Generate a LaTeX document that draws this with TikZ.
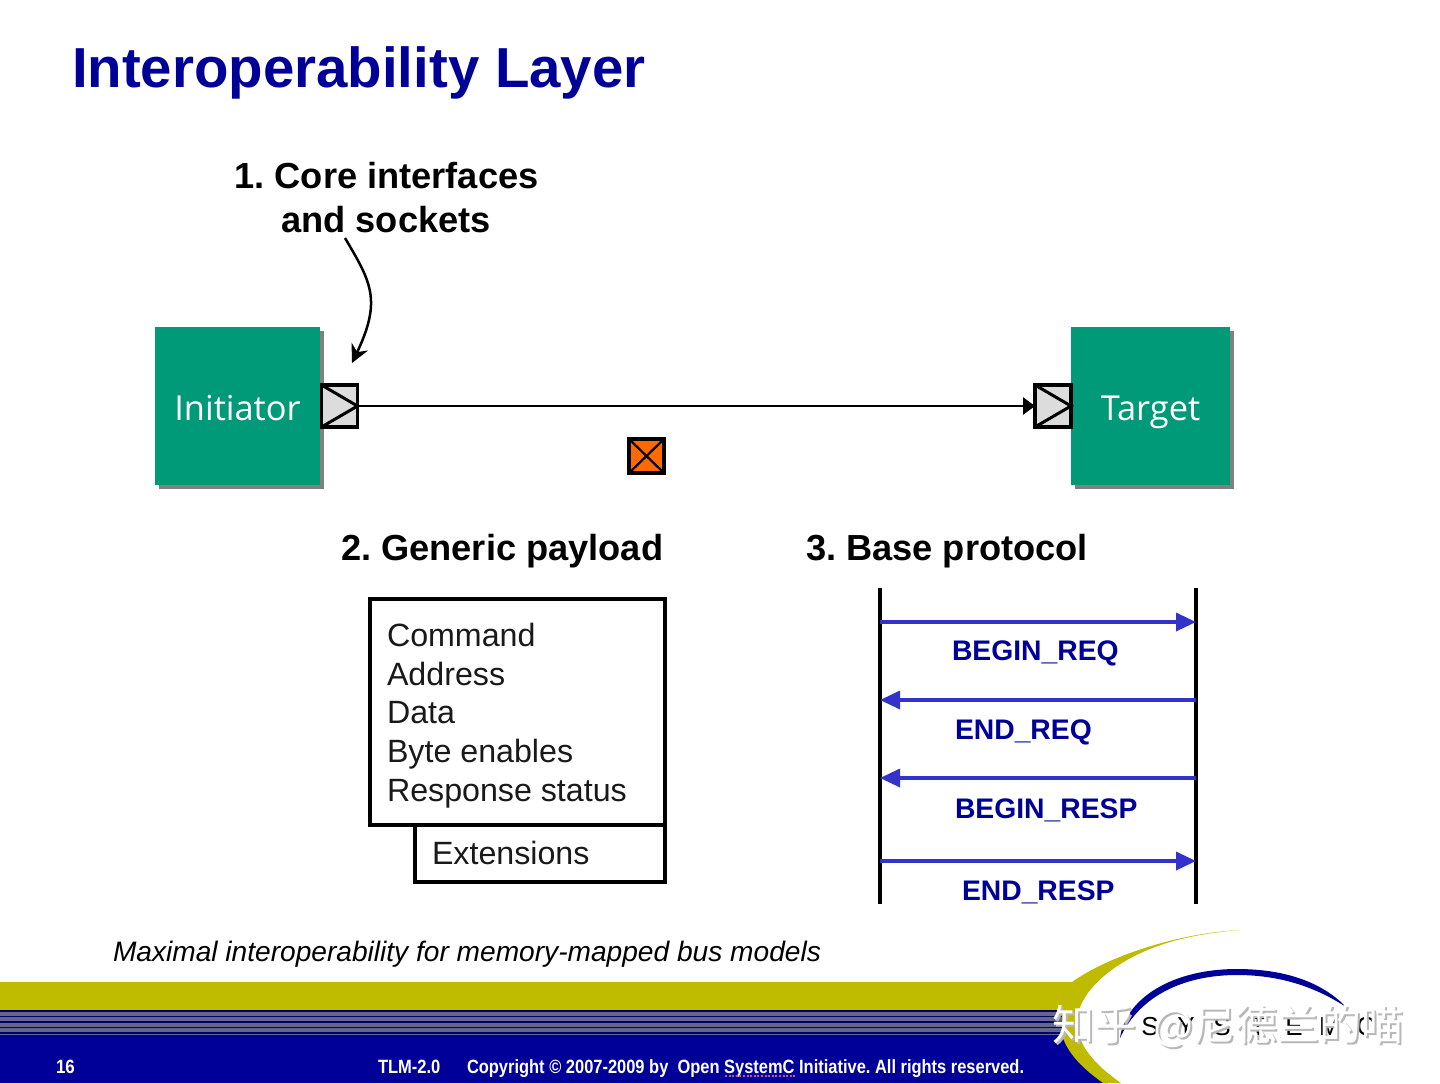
\documentclass[tikz,border=0pt]{standalone}
\usepackage{graphicx}
\usepackage{fontspec}
\setmainfont{Liberation Sans}
\newfontfamily\cjkfont{Noto Sans CJK SC}
\newfontfamily\humanist{Open Sans}
\usetikzlibrary{arrows.meta}
\definecolor{navy}{HTML}{000099}
\definecolor{olive}{HTML}{BFBC00}
\definecolor{teal}{HTML}{009A78}
\definecolor{shade}{HTML}{808080}
\definecolor{sockgray}{HTML}{DCDCDC}
\definecolor{orng}{HTML}{FF6A00}
\definecolor{proto}{HTML}{3333CC}
\definecolor{stripe}{HTML}{66668C}
\definecolor{squiggle}{HTML}{C050A0}
\tikzset{
  px/.style={x=0.5pt,y=-0.5pt},
  txt/.style={inner sep=0pt,outer sep=0pt,anchor=base west},
  heading/.style={txt,font=\fontsize{18.12}{20}\selectfont\bfseries,text=black},
  blockbox/.style={draw=none,fill=teal,inner sep=0pt,outer sep=0pt,text=white,text height=14.5pt,text depth=0pt,font=\humanist\fontsize{17.2}{20}\selectfont},
  shadowbox/.style={fill=shade,draw=none},
  sock/.style={draw=black,line width=1.8pt,fill=sockgray,minimum width=18pt,minimum height=21pt,inner sep=0pt,outer sep=0pt},
  sockline/.style={draw=black,line width=1.5pt},
  payload/.style={draw=black,line width=1.9pt,fill=white,inner sep=0pt,outer sep=0pt,anchor=north west},
  paytext/.style={txt,font=\fontsize{16.1}{19}\selectfont,text=black!90},
  lifeline/.style={draw=black,line width=2pt},
  msg/.style={draw=proto,line width=1.7pt,-{Triangle[length=10pt,width=9pt]}},
  msgtext/.style={txt,font=\fontsize{14.15}{16}\selectfont\bfseries,text=navy},
  foot/.style={txt,font=\fontsize{9.6}{11}\selectfont\bfseries,text=white},
}
\begin{document}
\frenchspacing
\begin{tikzpicture}[px]
\useasboundingbox (0,0) rectangle (1440,1083);
\fill[white] (0,0) rectangle (1440,1083);
% footer
\fill[olive] (0,982) rectangle (1075,1011);
\fill[stripe] (0,1010) rectangle (1064,1035);
\foreach \yy in {1011,1016.5,1022,1027.5,1033}{\fill[navy!70!black] (0,\yy-0.9) rectangle (1064,\yy+0.9);}
\fill[navy] (0,1035) -- (1064,1035) -- (1078,1060) -- (1108,1083) -- (0,1083) -- cycle;
% logo swooshes
\fill[olive] (1240,930) .. controls (1180,933) and (1110,955) .. (1072,982)
  -- (1062,1011) -- (1062,1035)
  .. controls (1068,1055) and (1085,1070) .. (1103,1083) -- (1121,1083)
  .. controls (1095,1065) and (1077,1045) .. (1077,1022)
  .. controls (1077,995) and (1110,960) .. (1170,942)
  .. controls (1190,936) and (1215,932) .. (1240,930) -- cycle;
\fill[navy] (1120,1038) .. controls (1125,1000) and (1170,969) .. (1237,969)
  .. controls (1290,969) and (1325,985) .. (1346,1007)
  .. controls (1320,990) and (1285,975) .. (1237,975)
  .. controls (1185,975) and (1140,995) .. (1120,1038) -- cycle;
\node[txt,font=\fontsize{13}{15}\selectfont,text=black] (logo) at (1132,1035) {\makebox[18pt]{S}\makebox[18pt]{Y}\makebox[18pt]{S}\makebox[18pt]{T}\makebox[18pt]{E}\makebox[18pt]{M}\makebox[18pt]{C}};
% title
\node[txt,font=\fontsize{28.2}{32}\selectfont\bfseries,text=navy] (title) at (72,87) {Interoperability Layer};
% heading 1
\node[heading,anchor=base] (h1a) at (386.5,188) {1. Core interfaces};
\node[heading,anchor=base] (h1b) at (386,232) {and sockets};
% blocks
\fill[shadowbox] (159,331) rectangle (324,489);
\fill[shadowbox] (1075,331) rectangle (1234,489);
\node[blockbox,minimum width=82.5pt,minimum height=79pt] (init) at (237.5,406) {Initiator};
\node[blockbox,minimum width=79.5pt,minimum height=79pt] (targ) at (1150.5,406) {Target};
% sockets
\node[sock] (s1) at (339.5,406) {};
\node[sock] (s2) at (1053,406) {};
\draw[sockline] (s1.north west) -- (s1.east) -- (s1.south west);
\draw[sockline] (s2.north west) -- (s2.east) -- (s2.south west);
\draw[line width=1.4pt,-{Triangle[length=6pt,width=8.5pt]}] (s1.east) -- (s2.west);
% payload socket
\node[draw=black,line width=1.8pt,fill=orng,minimum width=17.5pt,minimum height=17pt,inner sep=0pt,outer sep=0pt] (pl) at (646.5,456) {};
\draw[line width=1.1pt] (pl.north west) -- (pl.south east) (pl.north east) -- (pl.south west);
% curved arrow
\coordinate (ca) at (345,238);
\coordinate (cb) at (352,363);
\draw[line width=1.25pt,-{Stealth[length=9pt,width=9pt]}] (ca) .. controls (371,282) and (382,300) .. (cb);
% headings
\node[heading] (h2) at (341,560) {2. Generic payload};
\node[heading] (h3) at (806,560) {3. Base protocol};
% payload boxes
\node[payload,minimum width=125pt,minimum height=28.5pt] (ext) at (415,825) {};
\node[payload,minimum width=147.5pt,minimum height=113pt] (cmd) at (370,599) {};
\node[paytext] (t1) at (387,646) {Command};
\node[paytext] (t2) at (387,685) {Address};
\node[paytext] (t3) at (387,723) {Data};
\node[paytext] (t4) at (387,762) {Byte enables};
\node[paytext] (t5) at (387,801) {Response status};
\node[paytext] (t6) at (432,864) {Extensions};
% protocol
\coordinate (la) at (880,588); \coordinate (lb) at (880,904);
\coordinate (ra) at (1196,588); \coordinate (rb) at (1196,904);
\draw[lifeline] (la) -- (lb);
\draw[lifeline] (ra) -- (rb);
\coordinate (m1l) at (880,622); \coordinate (m1r) at (1196,622);
\coordinate (m2l) at (880,700); \coordinate (m2r) at (1196,700);
\coordinate (m3l) at (880,778); \coordinate (m3r) at (1196,778);
\coordinate (m4l) at (880,861); \coordinate (m4r) at (1196,861);
\draw[msg] (m1l) -- (m1r);
\draw[msg] (m2r) -- (m2l);
\draw[msg] (m3r) -- (m3l);
\draw[msg] (m4l) -- (m4r);
\node[msgtext] (b1) at (952,660) {BEGIN\_REQ};
\node[msgtext] (b2) at (955,739) {END\_REQ};
\node[msgtext] (b3) at (955,818) {BEGIN\_RESP};
\node[msgtext] (b4) at (962,900) {END\_RESP};
% caption
\node[txt,font=\fontsize{14.06}{16}\selectfont\itshape,text=black] (cap) at (113,961) {Maximal interoperability for memory-mapped bus models};
% footer text
\node[foot] (f1) at (56,1073) {\scalebox{0.88}[1]{16}};
\node[foot] (f2) at (378,1073) {\scalebox{0.86}[1]{TLM-2.0}};
\node[foot] (f3) at (467,1073) {\scalebox{0.857}[1]{Copyright © 2007-2009 by\ \ Open SystemC Initiative. All rights reserved.}};
\coordinate (sq1) at (725,1076); \coordinate (sq2) at (795,1076);
\draw[squiggle,line width=0.6pt,dash pattern=on 1pt off 0.8pt] (sq1) -- (sq2);
% watermark
\node[txt,font=\cjkfont\fontsize{21}{24}\selectfont,text=black!28] (wm2) at (1054,1042) {知乎\hspace{9pt}@尼德兰的喵};
\node[txt,font=\cjkfont\fontsize{21}{24}\selectfont,text=white] (wm) at (1052,1040) {知乎\hspace{9pt}@尼德兰的喵};
\end{tikzpicture}
\end{document}
